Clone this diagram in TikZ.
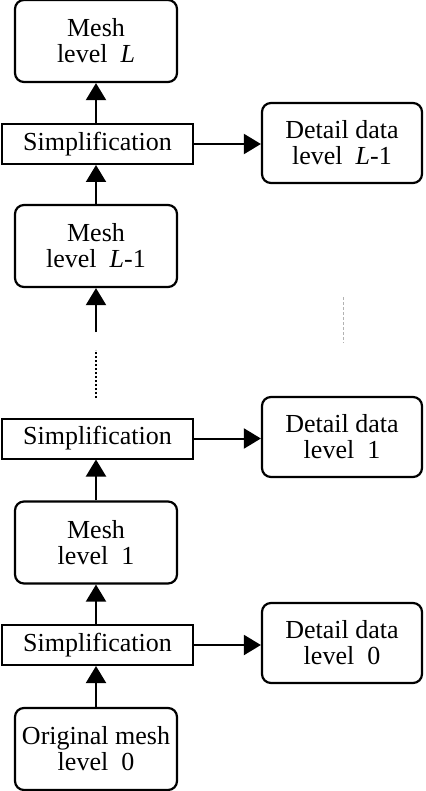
\documentclass[tikz,border=0pt]{standalone}
\usepackage{fontspec}
\setmainfont{Liberation Serif}
\usetikzlibrary{arrows.meta}
\begin{document}
\begin{tikzpicture}[x=1pt,y=-1pt,
  txt/.style={font=\fontsize{26}{26}\selectfont, align=center, inner sep=0pt},
  meshbox/.style={txt, draw, line width=2.2pt, rounded corners=9pt, minimum width=162pt, minimum height=82pt},
  simpbox/.style={txt, draw, line width=2pt, minimum width=191pt, minimum height=40pt},
  detbox/.style={txt, draw, line width=2.2pt, rounded corners=9pt, minimum width=160pt, minimum height=80pt},
  arr/.style={line width=2pt, -{Triangle[length=17pt,width=20pt]}}]
\useasboundingbox (0,0) rectangle (425,791);
\node[meshbox] (m2) at (96,41) {Mesh\\level\ \ \textit{L}};
\node[simpbox] (s2) at (97.5,144) {Simplification};
\node[detbox] (d2) at (342,143) {Detail data\\level\ \ \textit{L}-1};
\node[meshbox] (m1) at (96,246) {Mesh\\level\ \ \textit{L}-1};
\coordinate (c1) at (96,332);
\coordinate (dt) at (96,350);
\coordinate (db) at (96,398);
\node[simpbox] (s1) at (97.5,438.5) {Simplification};
\node[detbox] (d1) at (342,437) {Detail data\\level\ \ 1};
\node[meshbox] (mb) at (96,542.5) {Mesh\\level\ \ 1};
\node[simpbox] (s0) at (97.5,645) {Simplification};
\node[detbox] (d0) at (342,643) {Detail data\\level\ \ 0};
\node[meshbox] (mo) at (96,749) {Original mesh\\level\ \ 0};
\coordinate (g1) at (343,297);
\coordinate (g2) at (343,343);
\draw[arr] (mo.north) -- (mo.north |- s0.south);
\draw[arr] (mb.south |- s0.north) -- (mb.south);
\draw[arr] (s0.east) -- (d0.west |- s0.east);
\draw[arr] (mb.north) -- (mb.north |- s1.south);
\draw[arr] (s1.east) -- (d1.west |- s1.east);
\draw[line width=2.5pt, dash pattern=on 2pt off 2pt] (db) -- (dt);
\draw[arr] (c1) -- (m1.south);
\draw[arr] (m1.north) -- (m1.north |- s2.south);
\draw[arr] (s2.east) -- (d2.west |- s2.east);
\draw[arr] (m2.south |- s2.north) -- (m2.south);
\draw[gray!60, line width=0.6pt, dash pattern=on 3pt off 2pt] (g1) -- (g2);
\end{tikzpicture}
\end{document}
